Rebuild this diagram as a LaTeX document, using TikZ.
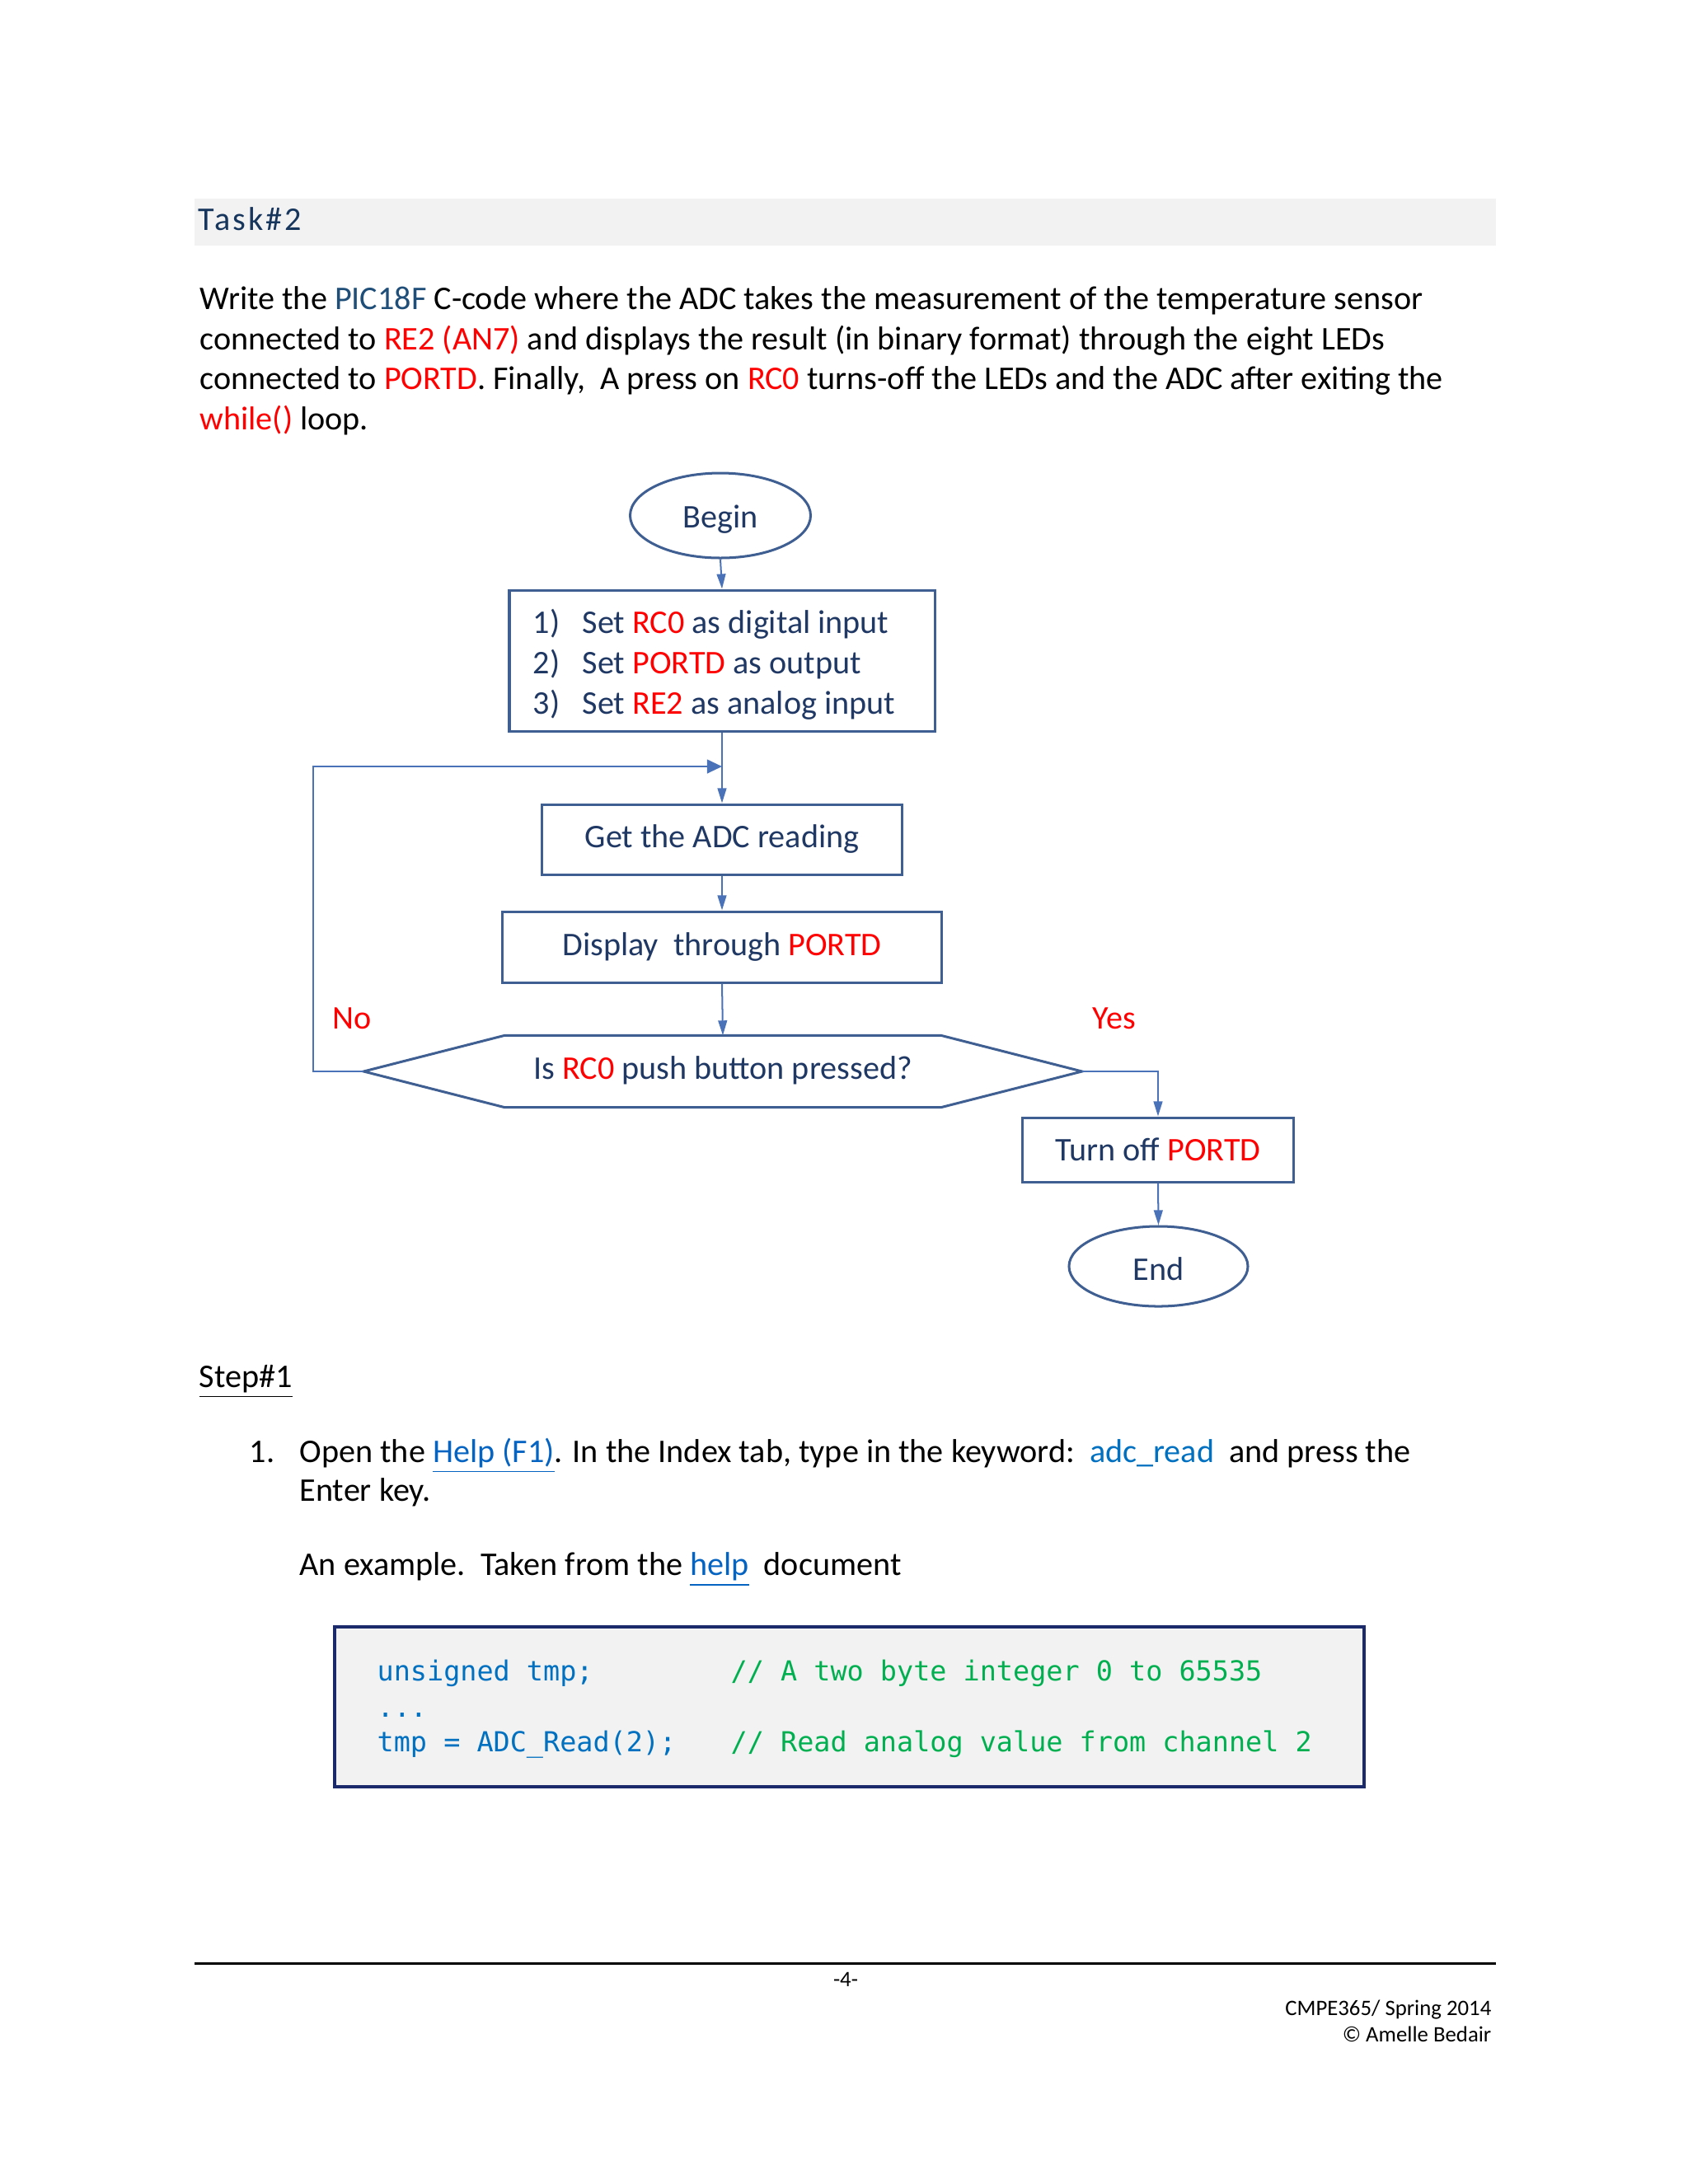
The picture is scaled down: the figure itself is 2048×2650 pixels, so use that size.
\documentclass[tikz,border=0pt]{standalone}
\usepackage{fontspec}
\setmainfont{Carlito}
\newfontfamily\codefont{DejaVu Sans Mono}
\newfontfamily\titlefont[LetterSpace=7.5]{Carlito}
\usetikzlibrary{arrows.meta,shapes.geometric}
\definecolor{navy}{HTML}{1F3864}
\definecolor{bordercol}{HTML}{3F5F92}
\definecolor{arrowcol}{HTML}{4A72B8}
\definecolor{hdrblue}{HTML}{17365D}
\definecolor{picblue}{HTML}{1F4E79}
\definecolor{myred}{HTML}{FF0000}
\definecolor{linkblue}{HTML}{0563C1}
\definecolor{kwblue}{HTML}{0070C0}
\definecolor{codeblue}{HTML}{0070C0}
\definecolor{codegreen}{HTML}{00B050}
\definecolor{codeborder}{HTML}{1B2A6B}
\definecolor{bandgray}{HTML}{F2F2F2}
\newcommand\rd[1]{\textcolor{myred}{#1}}
\begin{document}
\begin{tikzpicture}[x=0.29883pt,y=-0.29883pt,
  fs/.style={font=\fontsize{12}{14.6}\selectfont},
  bodytext/.style={fs,anchor=base west,inner sep=0pt,text=black},
  flowshape/.style={fs,draw=bordercol,line width=0.9pt,inner sep=0pt,text=navy,text depth=0pt},
  arr/.style={draw=arrowcol,line width=0.6pt,-{Triangle[length=5.4pt,width=3.2pt]}},
  codetext/.style={font=\codefont\fontsize{10}{12}\selectfont,anchor=base west,inner sep=0pt},
  foot/.style={font=\fontsize{8}{9.8}\selectfont,inner sep=0pt,text=black}]
\useasboundingbox (0,0) rectangle (2048,2650);

% header band
\fill[bandgray] (236,241) rectangle (1815,298);
\node[anchor=base west,inner sep=0pt,text=hdrblue,font=\titlefont\fontsize{12}{14.6}\selectfont] (title) at (240,279) {Task\#2};

% paragraph
\node[bodytext] (p1) at (242,375.5) {Write the \textcolor{picblue}{PIC18F} C-code where the ADC takes the measurement of the temperature sensor};
\node[bodytext] (p2) at (242,424.2) {connected to \rd{RE2 (AN7)} and displays the result (in binary format) through the eight LEDs};
\node[bodytext] (p3) at (242,472.9) {connected to \rd{PORTD}. Finally,\ \ A press on \rd{RC0} turns-off the LEDs and the ADC after exiting the};
\node[bodytext] (p4) at (242,521.6) {\rd{while()} loop.};

% flowchart
\node[flowshape,ellipse,minimum width=65.44pt,minimum height=30.78pt,text height=8.67pt] (begin) at (874,625.5) {Begin};
\node[flowshape,rectangle,minimum width=154.2pt,minimum height=51.1pt] (init) at (876,801.5) {};
\node[fs,anchor=base west,inner sep=0pt,text=navy] (i1) at (646,768) {\makebox[17.93pt][l]{1)}Set \rd{RC0} as digital input};
\node[fs,anchor=base west,inner sep=0pt,text=navy] (i2) at (646,817) {\makebox[17.93pt][l]{2)}Set \rd{PORTD} as output};
\node[fs,anchor=base west,inner sep=0pt,text=navy] (i3) at (646,866) {\makebox[17.93pt][l]{3)}Set \rd{RE2} as analog input};
\node[flowshape,rectangle,minimum width=130.3pt,minimum height=25.4pt,text height=5.68pt] (get) at (876,1018.5) {Get the ADC reading};
\node[flowshape,rectangle,minimum width=159.0pt,minimum height=25.7pt,text height=5.98pt] (disp) at (876,1149) {Display\ \ through \rd{PORTD}};
\node[fs,inner sep=0pt,minimum width=260pt,minimum height=25.7pt,text height=5.38pt,text depth=0pt,text=navy] (hex) at (877,1300) {Is \rd{RC0} push button pressed?};
\draw[bordercol,line width=0.9pt,line join=miter] (hex.west) -- ([xshift=51.1pt]hex.north west) -- ([xshift=-51.1pt]hex.north east) -- (hex.east) -- ([xshift=-51.1pt]hex.south east) -- ([xshift=51.1pt]hex.south west) -- cycle;
\node[flowshape,rectangle,minimum width=98.6pt,minimum height=23.3pt,text height=8.2pt] (off) at (1405,1395) {Turn off \rd{PORTD}};
\node[flowshape,ellipse,minimum width=64.85pt,minimum height=29pt,text height=10.2pt] (end) at (1405.5,1536.5) {End};
\node[fs,anchor=base west,inner sep=0pt,text=myred] (no) at (403,1248) {No};
\node[fs,anchor=base west,inner sep=0pt,text=myred] (yes) at (1325,1248) {Yes};

\coordinate (merge) at (876,930);
\coordinate (loopx) at (380,930);
\draw[arr] (begin.south) -- (init.north);
\draw[arr] (init.south) -- (get.north);
\draw[arr] (get.south) -- (disp.north);
\draw[arr] (disp.south) -- (hex.north);
\draw[draw=arrowcol,line width=0.6pt,-{Triangle[length=5.4pt,width=5pt]}] (hex.west) -| (loopx) -- (merge);
\draw[arr] (hex.east) -| (off.north);
\draw[arr] (off.south) -- (end.north);

% step section
\node[bodytext] (step) at (241,1683) {\underline{Step\#1}};
\node[bodytext] (n1) at (302,1774) {1.};
\node[bodytext] (s1) at (363,1774) {Open the \textcolor{linkblue}{\underline{Help (F1)}}. In the Index tab, type in the keyword:\ \ \textcolor{kwblue}{adc\_read}\ \ and press the};
\node[bodytext] (s2) at (363,1821.7) {Enter key.};
\node[bodytext] (s3) at (363,1911.7) {An example.\ \ Taken from the \textcolor{linkblue}{\underline{help}}\ \ document};

% code box
\filldraw[fill=bandgray,draw=codeborder,line width=1.05pt] (406,1974) rectangle (1655,2168);
\node[codetext,text=codeblue] (c1a) at (457,2039) {unsigned tmp;};
\node[codetext,text=codegreen] (c1b) at (886,2039) {// A two byte integer 0 to 65535};
\node[codetext,text=codeblue] (c2) at (457,2083) {...};
\node[codetext,text=codeblue] (c3a) at (457,2125) {tmp = ADC\_Read(2);};
\node[codetext,text=codegreen] (c3b) at (886,2125) {// Read analog value from channel 2};

% footer
\draw[black,line width=0.9pt] (236,2382) -- (1815,2382);
\node[foot,anchor=base] (pg) at (1026,2410) {-4-};
\node[foot,anchor=base east] (f1) at (1810,2445) {CMPE365/ Spring 2014};
\node[foot,anchor=base east] (f2) at (1810,2477) {© Amelle Bedair};
\end{tikzpicture}
\end{document}
